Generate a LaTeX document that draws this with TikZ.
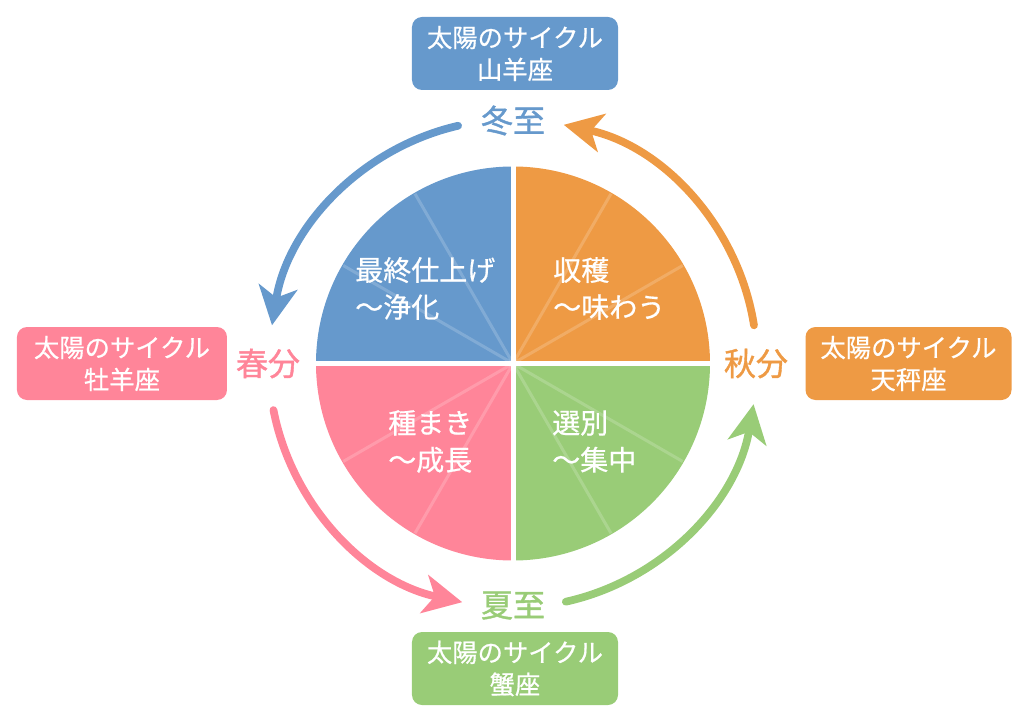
\documentclass[tikz,border=0pt]{standalone}
\usepackage{fontspec}
\newfontfamily\jpfont[FakeBold=0.6]{Noto Sans CJK JP}
\newfontfamily\jpheavy[FakeBold=1.2]{Noto Sans CJK JP}
\usetikzlibrary{arrows.meta}
\definecolor{winterblue}{HTML}{6699CC}
\definecolor{autumnorange}{HTML}{EE9A44}
\definecolor{summergreen}{HTML}{99CC77}
\definecolor{springpink}{HTML}{FF8599}

\begin{document}
\begin{tikzpicture}[x=0.75pt, y=0.75pt,
  every node/.style={inner sep=0pt, font=\jpfont},
  signbox/.style={rounded corners=7.5pt, minimum width=154.5pt, minimum height=54.75pt,
    align=center, text=white, font=\jpfont\fontsize{19}{24}\selectfont},
  season/.style={font=\jpheavy\fontsize{24}{28}\selectfont},
  phase/.style={anchor=west, align=left, text=white, font=\jpfont\fontsize{21}{27.75}\selectfont},
  cyclearrow/.style={line width=5.8pt, line cap=round, -{Stealth[length=29pt, width=29pt, inset=8pt]}}]
  \useasboundingbox (-513,-361.5) rectangle (511,363.5);
  % the four quarters
  \foreach \a/\c in {0/autumnorange, 90/winterblue, 180/springpink, 270/summergreen} {
    \fill[\c] (0,0) -- (\a:197) arc[start angle=\a, delta angle=90, radius=197] -- cycle;
  }
  % faint rays
  \foreach \a in {30,60,...,330} {
    \draw[white, opacity=0.18, line width=2.25pt] (0,0) -- (\a:196);
  }
  \draw[white, line width=3.75pt] (-200,0) -- (200,0) (0,-200) -- (0,200);

  \node[phase] (purify) at (-158,75) {最終仕上げ\\～浄化};
  \node[phase] (harvest) at (40,75) {収穫\\～味わう};
  \node[phase] (sowing) at (-125,-78) {種まき\\～成長};
  \node[phase] (select) at (39,-78) {選別\\～集中};

  % seasons
  \node[season, text=winterblue] (winter) at (90:243) {冬至};
  \node[season, text=springpink] (spring) at (180:245) {春分};
  \node[season, text=summergreen] (summer) at (270:242) {夏至};
  \node[season, text=autumnorange] (autumn) at (0:243) {秋分};

  \node[signbox, fill=winterblue] (winterbox) at (2,310) {太陽のサイクル\\山羊座};
  \node[signbox, fill=springpink, minimum width=157.5pt] (springbox) at (-391,0) {太陽のサイクル\\牡羊座};
  \node[signbox, fill=summergreen] (summerbox) at (2,-305) {太陽のサイクル\\蟹座};
  \node[signbox, fill=autumnorange] (autumnbox) at (395.5,0) {太陽のサイクル\\天秤座};

  % cycle arrows
  \draw[cyclearrow, winterblue] (103:244) arc[start angle=103, end angle=171, radius=244];
  \draw[cyclearrow, springpink] (191:244) arc[start angle=191, end angle=258, radius=244];
  \draw[cyclearrow, summergreen] (-77.5:244) arc[start angle=-77.5, end angle=-9.6, radius=244];
  \draw[cyclearrow, autumnorange] (9:244) arc[start angle=9, end angle=78, radius=244];
\end{tikzpicture}
\end{document}
